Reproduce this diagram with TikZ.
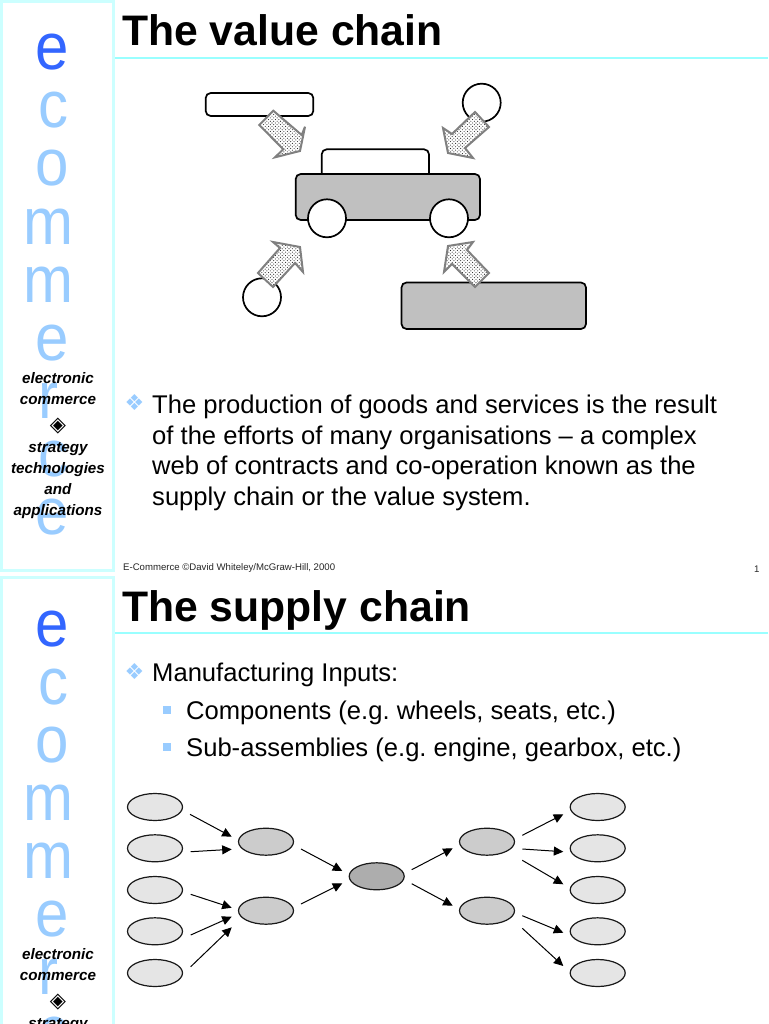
\documentclass[tikz,border=0pt]{standalone}
\usepackage{fontspec}
\setmainfont{Liberation Sans}
\newfontfamily\djv{DejaVu Sans}
\usetikzlibrary{shapes.geometric,arrows.meta,patterns,calc}
\definecolor{panelcyan}{HTML}{CCFFFF}
\definecolor{linecyan}{HTML}{99FFFF}
\definecolor{ltblue}{HTML}{99CCFF}
\definecolor{dkblue}{HTML}{3366FF}
\definecolor{shapeg}{HTML}{C0C0C0}
\pgfdeclarepatternformonly{bigdots}{\pgfqpoint{-1pt}{-1pt}}{\pgfqpoint{2.4pt}{2.4pt}}{\pgfqpoint{3.4pt}{3.4pt}}{%
 \pgfpathcircle{\pgfqpoint{0pt}{0pt}}{0.55pt}\pgfusepath{fill}%
 \pgfpathcircle{\pgfqpoint{1.7pt}{1.7pt}}{0.55pt}\pgfusepath{fill}}
\tikzset{
 x=1pt,y=-1pt,
 letter/.style={anchor=base,inner sep=0,font=\fontsize{60}{60}\selectfont,text=ltblue},
 first/.style={letter,text=dkblue},
 side/.style={anchor=base,inner sep=0,font=\fontsize{15.2}{15.2}\selectfont\itshape\bfseries,text=black},
 titletext/.style={anchor=base west,inner sep=0,font=\fontsize{42.7}{42.7}\selectfont\bfseries},
 bodytext/.style={anchor=base west,inner sep=0,font=\fontsize{25.6}{25.6}\selectfont\frenchspacing},
 foot/.style={anchor=base west,inner sep=0,font=\fontsize{9.6}{9.6}\selectfont,text=black!85},
 bulletd/.style={anchor=center,inner sep=0,font=\djv\fontsize{22}{22}\selectfont,text=ltblue},
 bullets/.style={rectangle,fill=ltblue,minimum size=8pt,inner sep=0},
 outl/.style={draw=black,line width=1.7pt,rounded corners=5pt},
 wheel/.style={circle,draw=black,line width=1.7pt,fill=white,minimum size=38pt,inner sep=0},
 block/.style={draw=black!50,line width=2pt,pattern=bigdots,pattern color=black!85,line join=miter},
 ov/.style={ellipse,draw=black!90,line width=1.2pt,minimum width=55pt,minimum height=27pt,inner sep=0},
 con/.style={draw=black,line width=1pt,-{Triangle[length=9.5pt,width=9pt]}},
}
\newcommand{\conn}[4]{\draw[con] ($(#1)+(#2)$) -- ($(#3)+(#4)$);}
\newcommand{\tallch}[1]{\scalebox{1}[1.1]{#1}}
\newcommand{\sidebar}[2]{%
 \draw[panelcyan,line width=3pt] (1.5,#1+1.5) rectangle (113.5,#1+570);
 \foreach \ch/\k/\xx in {c/1/53,o/2/52,m/3/48,m/4/48,e/5/52,r/6/48,c/7/53,e/8/52}{
  \node[letter] (let#2\k) at (\xx,#1+70+58*\k) {\tallch{\ch}};
 }
 \node[first] (let#20) at (52,#1+70) {\tallch{e}};
 \node[side] (s#2a) at (58,#1+383) {electronic};
 \node[side] (s#2b) at (58,#1+404) {commerce};
 \node[anchor=center,inner sep=0,font=\djv\fontsize{21}{21}\selectfont] (s#2c) at (58,#1+426) {◈};
 \node[side] (s#2d) at (58,#1+452) {strategy};
 \node[side] (s#2e) at (58,#1+473) {technologies};
 \node[side] (s#2f) at (58,#1+494) {and};
 \node[side] (s#2g) at (58,#1+515) {applications};
}
\begin{document}
\begin{tikzpicture}
\useasboundingbox (0,0) rectangle (768,1024);
\clip (0,0) rectangle (768,1024);
\fill[white] (0,0) rectangle (768,1024);
\sidebar{0}{A}
\sidebar{576}{B}
\draw[linecyan,line width=1.6pt] (115,58) -- (768,58);
\draw[linecyan,line width=1.6pt] (115,633) -- (768,633);
\node[titletext] (t1) at (122,46) {The value chain};
\node[titletext] (t2) at (122,621.5) {The supply chain};
% value chain picture
\draw[outl,fill=white] (205.7,93) rectangle (313.3,116);
\draw[black,line width=1.7pt,fill=white,rounded corners=5pt] (321.7,176) -- (321.7,149.3) -- (429,149.3) -- (429,176);
\draw[outl,fill=shapeg] (295.7,174) rectangle (480,220);
\node[wheel] (w1) at (327,218.3) {};
\node[wheel] (w2) at (449,218.3) {};
\node[wheel] (c1) at (481.7,102.7) {};
\node[wheel] (c2) at (262,297.3) {};
\draw[outl,fill=shapeg] (401.5,282.5) rectangle (586,329);
\foreach \pts in {
 {(273.3,110.7) -- (301.7,135) -- (305,126.7) -- (300,151) -- (275,157.3) -- (283.3,149.3) -- (259.3,125) -- cycle},
 {(475,112) -- (489,127) -- (465,148) -- (473,158) -- (448,153) -- (443,128) -- (452,134) -- cycle},
 {(258,273) -- (273,287) -- (295,263) -- (303,272) -- (300,247) -- (273,242) -- (280,248) -- cycle},
 {(489,273) -- (475,287) -- (452,264) -- (444,272) -- (448,246) -- (473,242) -- (467,250) -- cycle}}{
 \expandafter\fill\expandafter[\expandafter w\expandafter h\expandafter i\expandafter t\expandafter e\expandafter]\pts;
 \expandafter\draw\expandafter[\expandafter b\expandafter l\expandafter o\expandafter c\expandafter k\expandafter]\pts;
}
% slide 1 text
\node[bulletd] (b1) at (134.5,403) {❖};
\node[bodytext] (l1) at (152,413) {The production of goods and services is the result};
\node[bodytext] (l2) at (152,444) {of the efforts of many organisations – a complex};
\node[bodytext] (l3) at (152,474) {web of contracts and co-operation known as the};
\node[bodytext] (l4) at (152,505) {supply chain or the value system.};
\node[foot] (f1) at (123,570) {E-Commerce ©David Whiteley/McGraw-Hill, 2000};
\node[foot] (f2) at (754,572) {1};
% slide 2 text
\node[bulletd] (b2) at (134.5,672) {❖};
\node[bodytext] (m1) at (152,681) {Manufacturing Inputs:};
\node[bullets] (b3) at (167,710) {};
\node[bodytext] (m2) at (186,719) {Components (e.g. wheels, seats, etc.)};
\node[bullets] (b4) at (167,747) {};
\node[bodytext] (m3) at (186,756) {Sub-assemblies (e.g. engine, gearbox, etc.)};
% supply chain
\foreach \n/\yy in {1/807,2/848.3,3/890,4/931.3,5/973}{
 \node[ov,fill=black!10] (a\n) at (155,\yy) {};
 \node[ov,fill=black!10] (e\n) at (597.7,\yy) {};
}
\node[ov,fill=black!20] (p1) at (266,841.7) {};
\node[ov,fill=black!20] (p2) at (266,910.7) {};
\node[ov,fill=black!32] (h) at (376.7,876.3) {};
\node[ov,fill=black!20] (d1) at (487,841.7) {};
\node[ov,fill=black!20] (d2) at (487,910.7) {};
\conn{a1}{35,7.3}{p1}{-34.3,-5}
\conn{a2}{35.7,3.4}{p1}{-34.3,7.6}
\conn{a3}{35.7,4.3}{p2}{-34.3,-3}
\conn{a4}{35.7,3.7}{p2}{-34.3,6}
\conn{a5}{35.7,-6.3}{p2}{-34.3,16.6}
\conn{p1}{35,7.3}{h}{-34.4,-5.3}
\conn{p2}{35,-6.7}{h}{-34.4,7}
\conn{h}{35,-6.6}{d1}{-34.3,6.6}
\conn{h}{35,7.4}{d2}{-34.3,-5}
\conn{d1}{35.3,-6.4}{e1}{-34.4,7.3}
\conn{d1}{35.3,7.3}{e2}{-34.4,3.4}
\conn{d1}{35.3,18.6}{e3}{-34.4,-5.7}
\conn{d2}{35.3,5}{e4}{-34.4,1.4}
\conn{d2}{35.3,17.6}{e5}{-34.4,-7}
\end{tikzpicture}
\end{document}
